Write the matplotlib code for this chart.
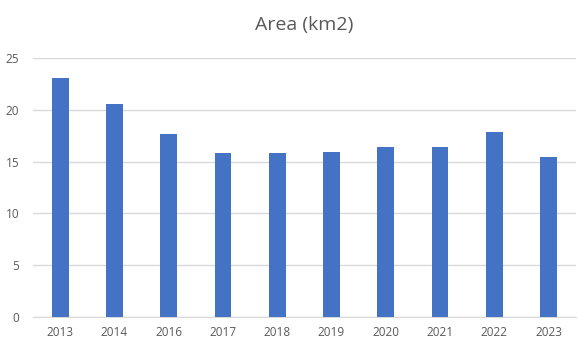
import numpy as np
import matplotlib.pyplot as plt

years = ['2013', '2014', '2016', '2017', '2018', '2019', '2020', '2021', '2022', '2023']
area = [23.1, 20.6, 17.7, 15.85, 15.85, 15.95, 16.4, 16.4, 17.9, 15.45]
y_ticks = [0, 5, 10, 15, 20, 25]

plt.rcParams['font.family'] = ['Open Sans', 'DejaVu Sans']

fig = plt.figure(figsize=(5.86, 3.55), dpi=100)
ax = fig.add_axes([0.0563, 0.108, 0.9261, 0.728])

x = np.arange(len(years))
ax.bar(x, area, width=0.31, color='#4472C4', zorder=3)

ax.set_xlim(-0.5, len(years) - 0.5)
ax.set_ylim(0, 25)
ax.set_yticks(y_ticks)
ax.set_xticks(x)
ax.set_xticklabels(years)

ax.grid(axis='y', color='#d9d9d9', linewidth=1, zorder=0)
for s in ['top', 'right', 'left']:
    ax.spines[s].set_visible(False)
ax.spines['bottom'].set_color('#d9d9d9')
ax.tick_params(axis='both', length=0, labelsize=8.5, labelcolor='#595959')
ax.tick_params(axis='x', pad=7)
ax.tick_params(axis='y', pad=10)

ax.set_title('Area (km2)', fontsize=14, color='#595959', pad=20)

fig.savefig('out.png', dpi=100)
